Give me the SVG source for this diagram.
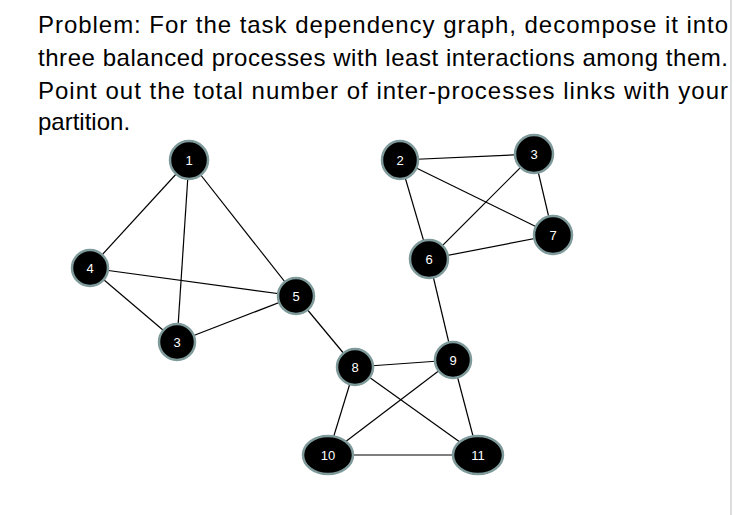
<svg xmlns="http://www.w3.org/2000/svg" width="738" height="515" viewBox="0 0 738 515">
<style>
.t{font-family:"Liberation Sans",Arial,sans-serif;font-size:24px;fill:#000}
.n ellipse{fill:#000;stroke:#7f9a9a;stroke-width:2.5}
.n text{font-family:"Liberation Sans",Arial,sans-serif;font-size:13px;fill:#fff;text-anchor:middle}
.e line{stroke:#000;stroke-width:1.2}
</style>
<rect width="738" height="515" fill="#fff"/>
<line x1="731" y1="0" x2="731" y2="515" stroke="#bbb" stroke-width="1"/>
<text class="t" x="38" y="33" textLength="690" lengthAdjust="spacing">Problem: For the task dependency graph,  decompose it into</text>
<text class="t" x="38" y="66" textLength="690" lengthAdjust="spacing">three balanced processes with least interactions among them.</text>
<text class="t" x="38" y="99" textLength="690" lengthAdjust="spacing">Point out the total number of inter-processes links with your</text>
<text class="t" x="38" y="130">partition.</text>
<g class="e" id="connectors">
<line x1="189" y1="160" x2="90" y2="268"/>
<line x1="189" y1="160" x2="177" y2="342"/>
<line x1="189" y1="160" x2="296" y2="296"/>
<line x1="90" y1="268" x2="296" y2="296"/>
<line x1="90" y1="268" x2="177" y2="342"/>
<line x1="177" y1="342" x2="296" y2="296"/>
<line x1="296" y1="296" x2="355" y2="367"/>
<line x1="400" y1="160" x2="534" y2="154"/>
<line x1="400" y1="160" x2="553" y2="235"/>
<line x1="400" y1="160" x2="429" y2="259"/>
<line x1="534" y1="154" x2="429" y2="259"/>
<line x1="534" y1="154" x2="553" y2="235"/>
<line x1="429" y1="259" x2="553" y2="235"/>
<line x1="429" y1="259" x2="453" y2="360"/>
<line x1="355" y1="367" x2="453" y2="360"/>
<line x1="355" y1="367" x2="328" y2="455"/>
<line x1="355" y1="367" x2="478" y2="455"/>
<line x1="453" y1="360" x2="328" y2="455"/>
<line x1="453" y1="360" x2="478" y2="455"/>
<line x1="328" y1="455" x2="478" y2="455"/>
</g>
<g class="n" id="n1"><ellipse cx="189" cy="160" rx="19" ry="19"/><text x="189" y="165">1</text></g>
<g class="n" id="n2"><ellipse cx="400" cy="160" rx="18" ry="19"/><text x="400" y="165">2</text></g>
<g class="n" id="n3a"><ellipse cx="534" cy="154" rx="19" ry="19"/><text x="534" y="159">3</text></g>
<g class="n" id="n7"><ellipse cx="553" cy="235" rx="19" ry="19"/><text x="553" y="240">7</text></g>
<g class="n" id="n6"><ellipse cx="429" cy="259" rx="19" ry="19"/><text x="429" y="264">6</text></g>
<g class="n" id="n4"><ellipse cx="90" cy="268" rx="18" ry="18"/><text x="90" y="273">4</text></g>
<g class="n" id="n5"><ellipse cx="296" cy="296" rx="18" ry="18"/><text x="296" y="301">5</text></g>
<g class="n" id="n3b"><ellipse cx="177" cy="342" rx="18" ry="18"/><text x="177" y="347">3</text></g>
<g class="n" id="n8"><ellipse cx="355" cy="367" rx="18" ry="18"/><text x="355" y="372">8</text></g>
<g class="n" id="n9"><ellipse cx="453" cy="360" rx="18" ry="18"/><text x="453" y="365">9</text></g>
<g class="n" id="n10"><ellipse cx="328" cy="455" rx="25" ry="19"/><text x="328" y="460">10</text></g>
<g class="n" id="n11"><ellipse cx="478" cy="455" rx="25" ry="19"/><text x="478" y="460">11</text></g>
</svg>
